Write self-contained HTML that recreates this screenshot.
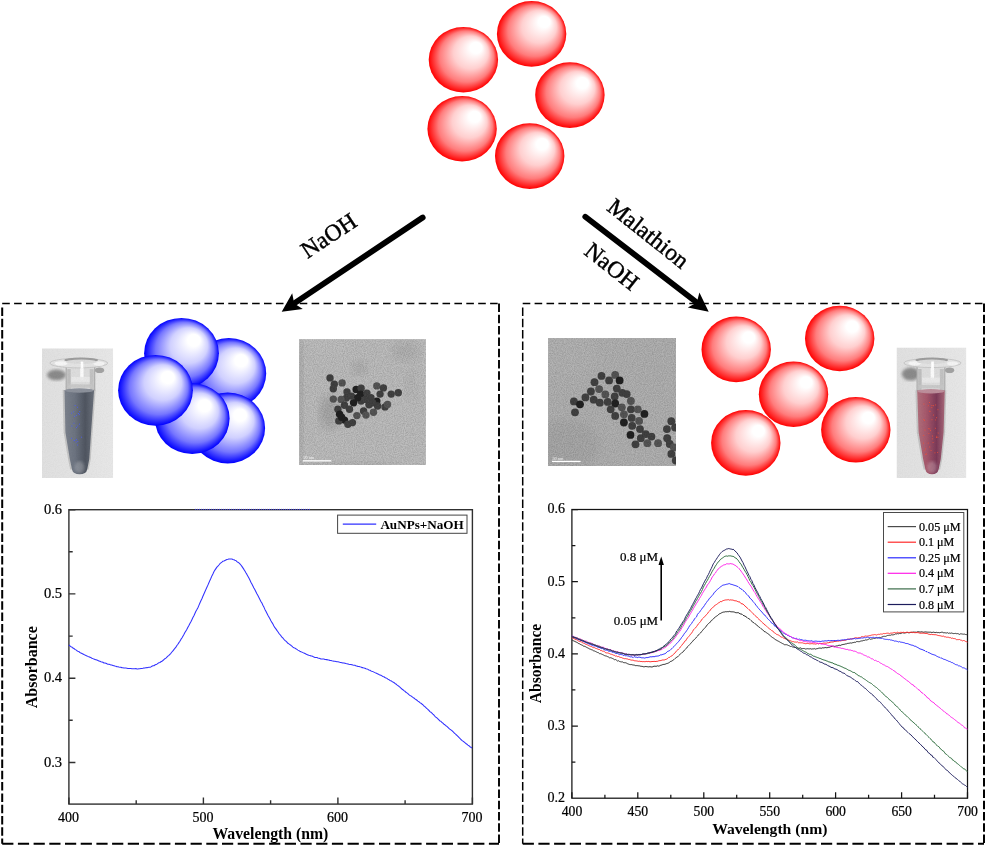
<!DOCTYPE html>
<html lang="en"><head><meta charset="utf-8"><title>AuNPs malathion sensing scheme</title>
<style>html,body{margin:0;padding:0;background:#fff}svg{display:block}text{font-family:"Liberation Serif", "DejaVu Serif", serif;fill:#000}</style></head><body>
<svg width="987" height="847" viewBox="0 0 987 847">
<defs>
<radialGradient id="gr" cx="0.5" cy="0.5" r="0.5" fx="0.72" fy="0.28"><stop offset="0" stop-color="#fff"/><stop offset="0.17" stop-color="#fff"/><stop offset="0.5" stop-color="#ffcfcf"/><stop offset="0.78" stop-color="#ff7c7c"/><stop offset="0.94" stop-color="#ff2222"/><stop offset="1" stop-color="#ff0000"/></radialGradient>
<radialGradient id="gb" cx="0.5" cy="0.5" r="0.5" fx="0.70" fy="0.28"><stop offset="0" stop-color="#fff"/><stop offset="0.17" stop-color="#fff"/><stop offset="0.5" stop-color="#d0d0ff"/><stop offset="0.78" stop-color="#7676ff"/><stop offset="0.93" stop-color="#2424ff"/><stop offset="1" stop-color="#0000ff"/></radialGradient>
<filter id="noise" x="0" y="0" width="1" height="1"><feTurbulence type="fractalNoise" baseFrequency="0.9" numOctaves="2" seed="3" result="n"/><feColorMatrix in="n" type="matrix" values="0 0 0 0 0  0 0 0 0 0  0 0 0 0 0  0.9 0 0 0 -0.28" result="a"/><feComposite in="a" in2="SourceGraphic" operator="in"/></filter>
<filter id="b1"><feGaussianBlur stdDeviation="0.7"/></filter>
<filter id="b2"><feGaussianBlur stdDeviation="1.6"/></filter>
<filter id="b4"><feGaussianBlur stdDeviation="4"/></filter>
<linearGradient id="tubebgL" x1="0" x2="1" y1="0" y2="0"><stop offset="0" stop-color="#e0e0e0"/><stop offset="0.6" stop-color="#e3e3e3"/><stop offset="1" stop-color="#e7e7e7"/></linearGradient>
<linearGradient id="liqL" x1="0" x2="1" y1="0" y2="0"><stop offset="0" stop-color="#7b818c"/><stop offset="0.35" stop-color="#6c7380"/><stop offset="0.7" stop-color="#4f5560"/><stop offset="1" stop-color="#6a707b"/></linearGradient>
<linearGradient id="liqR" x1="0" x2="1" y1="0" y2="0"><stop offset="0" stop-color="#b0707c"/><stop offset="0.35" stop-color="#a4566a"/><stop offset="0.7" stop-color="#7c3a58"/><stop offset="1" stop-color="#a86878"/></linearGradient>
</defs>
<rect width="987" height="847" fill="#fff"/>
<ellipse cx="531.6" cy="33.9" rx="34.7" ry="32.8" fill="url(#gr)"/>
<ellipse cx="463.4" cy="59.7" rx="34.7" ry="32.8" fill="url(#gr)"/>
<ellipse cx="569.9" cy="95.1" rx="34.7" ry="32.8" fill="url(#gr)"/>
<ellipse cx="462.1" cy="128.7" rx="34.7" ry="32.8" fill="url(#gr)"/>
<ellipse cx="529.7" cy="156.1" rx="34.7" ry="32.8" fill="url(#gr)"/>
<g stroke="#000" fill="none">
<path d="M2.2 303.5H499.0" stroke-width="1.3" stroke-dasharray="7.6 4.3"/>
<path d="M2.2 843.8H499.0" stroke-width="1.9" stroke-dasharray="11.2 4.5"/>
<path d="M2.2 307.5V843.8" stroke-width="2.0" stroke-dasharray="8.5 2.8"/>
<path d="M499.0 303.5V843.8" stroke-width="1.9" stroke-dasharray="8.5 2.8"/>
</g>
<g stroke="#000" fill="none">
<path d="M522.7 303.5H984.0" stroke-width="1.3" stroke-dasharray="7.6 4.3"/>
<path d="M522.7 843.8H984.0" stroke-width="1.9" stroke-dasharray="11.2 4.5"/>
<path d="M522.7 307.5V843.8" stroke-width="1.5" stroke-dasharray="8.5 2.8"/>
<path d="M984.0 303.5V843.8" stroke-width="2.0" stroke-dasharray="8.5 2.8"/>
</g>
<line x1="422.7" y1="217.5" x2="294.2" y2="303.4" stroke="#000" stroke-width="5.8" stroke-linecap="round"/>
<path d="M281.7 311.7L292.2 293.2L294.2 303.4L302.8 309.0Z" fill="#000"/>
<line x1="585.3" y1="216.7" x2="696.8" y2="302.5" stroke="#000" stroke-width="5.8" stroke-linecap="round"/>
<path d="M708.7 311.7L687.8 307.6L696.8 302.5L699.4 292.6Z" fill="#000"/>
<text transform="translate(333.0 242.0) rotate(-33.7)" font-size="23.5" font-weight="normal" text-anchor="middle" stroke="#000" stroke-width="0.45">NaOH</text>
<text transform="translate(643.5 239.5) rotate(38.5)" font-size="23.5" font-weight="normal" text-anchor="middle" stroke="#000" stroke-width="0.45">Malathion</text>
<text transform="translate(607.0 272.5) rotate(38.5)" font-size="23.5" font-weight="normal" text-anchor="middle" stroke="#000" stroke-width="0.45">NaOH</text>
<ellipse cx="228.8" cy="373.5" rx="37.4" ry="35.4" fill="url(#gb)"/>
<ellipse cx="181.5" cy="353.3" rx="37.4" ry="35.4" fill="url(#gb)"/>
<ellipse cx="227.7" cy="428.0" rx="37.4" ry="35.4" fill="url(#gb)"/>
<ellipse cx="192.2" cy="418.6" rx="37.4" ry="35.4" fill="url(#gb)"/>
<ellipse cx="155.5" cy="390.3" rx="37.4" ry="35.4" fill="url(#gb)"/>
<ellipse cx="736.2" cy="349.4" rx="34.7" ry="32.8" fill="url(#gr)"/>
<ellipse cx="839.7" cy="338.5" rx="34.7" ry="32.8" fill="url(#gr)"/>
<ellipse cx="793.5" cy="394.3" rx="34.7" ry="32.8" fill="url(#gr)"/>
<ellipse cx="745.8" cy="442.9" rx="34.7" ry="32.8" fill="url(#gr)"/>
<ellipse cx="855.8" cy="429.7" rx="34.7" ry="32.8" fill="url(#gr)"/>
<clipPath id="c299"><rect x="299.1" y="339.1" width="126.8" height="125.9"/></clipPath>
<g clip-path="url(#c299)">
<rect x="299.1" y="339.1" width="126.8" height="125.9" fill="#bdbdbd"/>
<ellipse cx="299.0" cy="400.0" rx="4.0" ry="70.0" fill="#9a9a9a" opacity="0.55" filter="url(#b4)"/>
<ellipse cx="329.7" cy="412.6" rx="10.0" ry="17.0" fill="#9a9a9a" opacity="0.60" filter="url(#b4)"/>
<ellipse cx="359.4" cy="368.0" rx="8.0" ry="7.5" fill="#a4a4a4" opacity="0.60" filter="url(#b4)"/>
<ellipse cx="405.7" cy="351.5" rx="14.0" ry="10.0" fill="#a8a8a8" opacity="0.55" filter="url(#b4)"/>
<ellipse cx="411.0" cy="384.5" rx="6.0" ry="17.0" fill="#acacac" opacity="0.40" filter="url(#b4)"/>
<ellipse cx="350.0" cy="467.0" rx="50.0" ry="5.0" fill="#a4a4a4" opacity="0.40" filter="url(#b4)"/>
<ellipse cx="330.0" cy="345.0" rx="20.0" ry="6.0" fill="#c2c2c2" opacity="0.50" filter="url(#b4)"/>
<g filter="url(#b1)">
<circle cx="330.0" cy="377.9" r="3.7" fill="#424242"/>
<circle cx="334.3" cy="384.2" r="3.7" fill="#424242"/>
<circle cx="342.1" cy="382.9" r="3.7" fill="#565656"/>
<circle cx="333.3" cy="388.7" r="3.7" fill="#424242"/>
<circle cx="333.3" cy="399.1" r="3.7" fill="#565656"/>
<circle cx="347.0" cy="392.0" r="3.7" fill="#424242"/>
<circle cx="356.1" cy="389.5" r="3.7" fill="#232323"/>
<circle cx="361.1" cy="388.2" r="3.7" fill="#424242"/>
<circle cx="360.7" cy="394.1" r="3.7" fill="#232323"/>
<circle cx="366.9" cy="393.1" r="3.7" fill="#424242"/>
<circle cx="353.6" cy="402.7" r="3.7" fill="#232323"/>
<circle cx="346.2" cy="398.1" r="3.7" fill="#424242"/>
<circle cx="341.2" cy="399.4" r="3.7" fill="#565656"/>
<circle cx="344.5" cy="405.2" r="3.7" fill="#424242"/>
<circle cx="337.9" cy="409.3" r="3.7" fill="#424242"/>
<circle cx="339.6" cy="414.3" r="3.7" fill="#232323"/>
<circle cx="344.5" cy="420.1" r="3.7" fill="#232323"/>
<circle cx="338.8" cy="420.9" r="3.7" fill="#424242"/>
<circle cx="347.9" cy="424.2" r="3.7" fill="#424242"/>
<circle cx="352.5" cy="422.6" r="3.7" fill="#424242"/>
<circle cx="356.9" cy="415.6" r="3.7" fill="#565656"/>
<circle cx="363.6" cy="411.0" r="3.7" fill="#424242"/>
<circle cx="366.0" cy="415.1" r="3.7" fill="#565656"/>
<circle cx="373.5" cy="412.3" r="3.7" fill="#565656"/>
<circle cx="369.0" cy="404.7" r="3.7" fill="#424242"/>
<circle cx="376.8" cy="401.1" r="3.7" fill="#232323"/>
<circle cx="377.6" cy="406.0" r="3.7" fill="#424242"/>
<circle cx="385.0" cy="406.9" r="3.7" fill="#424242"/>
<circle cx="387.5" cy="404.4" r="3.7" fill="#565656"/>
<circle cx="380.1" cy="394.1" r="3.7" fill="#424242"/>
<circle cx="376.8" cy="385.9" r="3.7" fill="#565656"/>
<circle cx="383.4" cy="387.9" r="3.7" fill="#424242"/>
<circle cx="391.2" cy="394.1" r="3.7" fill="#424242"/>
<circle cx="398.3" cy="392.8" r="3.7" fill="#424242"/>
<circle cx="361.1" cy="401.1" r="3.7" fill="#424242"/>
<circle cx="371.0" cy="397.8" r="3.7" fill="#424242"/>
<circle cx="351.5" cy="396.1" r="3.7" fill="#424242"/>
<circle cx="357.8" cy="397.8" r="3.7" fill="#232323"/>
<circle cx="365.2" cy="399.4" r="3.7" fill="#424242"/>
<circle cx="372.6" cy="402.7" r="3.7" fill="#424242"/>
<circle cx="349.5" cy="409.3" r="3.7" fill="#424242"/>
<circle cx="341.6" cy="417.3" r="3.7" fill="#232323"/>
</g>
<rect x="299.1" y="339.1" width="126.8" height="125.9" fill="#000" filter="url(#noise)" opacity="0.18"/>
<rect x="299.6" y="339.6" width="126.8" height="125.9" fill="#fff" filter="url(#noise)" opacity="0.12"/>
<rect x="302.9" y="460.2" width="28.4" height="1.3" fill="#fff"/>
<text x="303.4" y="459.0" font-size="4.2" fill="#f4f4f4" style="fill:#f4f4f4" textLength="11" lengthAdjust="spacingAndGlyphs">20 nm</text>
</g>
<clipPath id="c547"><rect x="547.9" y="337.9" width="128.1" height="128.1"/></clipPath>
<g clip-path="url(#c547)">
<rect x="547.9" y="337.9" width="128.1" height="128.1" fill="#b1b1b1"/>
<ellipse cx="565.0" cy="352.0" rx="32.0" ry="26.0" fill="#b6b6b6" opacity="0.50" filter="url(#b4)"/>
<ellipse cx="565.0" cy="445.0" rx="35.0" ry="25.0" fill="#a0a0a0" opacity="0.50" filter="url(#b4)"/>
<ellipse cx="655.0" cy="365.0" rx="25.0" ry="30.0" fill="#b0b0b0" opacity="0.40" filter="url(#b4)"/>
<g filter="url(#b1)">
<circle cx="573.9" cy="401.4" r="3.9" fill="#424242"/>
<circle cx="580.0" cy="404.3" r="3.9" fill="#232323"/>
<circle cx="575.0" cy="412.3" r="3.9" fill="#424242"/>
<circle cx="585.4" cy="397.4" r="3.9" fill="#424242"/>
<circle cx="590.9" cy="391.5" r="3.9" fill="#424242"/>
<circle cx="594.5" cy="382.2" r="3.9" fill="#424242"/>
<circle cx="601.5" cy="375.9" r="3.9" fill="#424242"/>
<circle cx="599.1" cy="389.1" r="3.9" fill="#565656"/>
<circle cx="593.7" cy="399.7" r="3.9" fill="#424242"/>
<circle cx="599.8" cy="402.7" r="3.9" fill="#424242"/>
<circle cx="605.3" cy="394.4" r="3.9" fill="#565656"/>
<circle cx="609.1" cy="380.4" r="3.9" fill="#424242"/>
<circle cx="615.2" cy="374.9" r="3.9" fill="#565656"/>
<circle cx="619.6" cy="380.4" r="3.9" fill="#232323"/>
<circle cx="616.8" cy="388.6" r="3.9" fill="#424242"/>
<circle cx="614.7" cy="396.4" r="3.9" fill="#424242"/>
<circle cx="622.3" cy="392.8" r="3.9" fill="#424242"/>
<circle cx="626.7" cy="394.1" r="3.9" fill="#424242"/>
<circle cx="607.7" cy="401.9" r="3.9" fill="#424242"/>
<circle cx="615.2" cy="403.5" r="3.9" fill="#232323"/>
<circle cx="610.7" cy="409.3" r="3.9" fill="#424242"/>
<circle cx="621.8" cy="407.3" r="3.9" fill="#565656"/>
<circle cx="615.2" cy="415.9" r="3.9" fill="#424242"/>
<circle cx="623.9" cy="414.3" r="3.9" fill="#565656"/>
<circle cx="630.9" cy="401.0" r="3.9" fill="#565656"/>
<circle cx="630.9" cy="409.3" r="3.9" fill="#424242"/>
<circle cx="637.8" cy="409.3" r="3.9" fill="#565656"/>
<circle cx="644.4" cy="413.9" r="3.9" fill="#232323"/>
<circle cx="631.7" cy="417.9" r="3.9" fill="#424242"/>
<circle cx="639.1" cy="420.9" r="3.9" fill="#565656"/>
<circle cx="623.9" cy="422.5" r="3.9" fill="#232323"/>
<circle cx="632.2" cy="425.8" r="3.9" fill="#424242"/>
<circle cx="640.0" cy="429.1" r="3.9" fill="#424242"/>
<circle cx="630.5" cy="434.9" r="3.9" fill="#232323"/>
<circle cx="640.8" cy="438.2" r="3.9" fill="#424242"/>
<circle cx="645.7" cy="434.1" r="3.9" fill="#424242"/>
<circle cx="651.5" cy="436.6" r="3.9" fill="#424242"/>
<circle cx="635.5" cy="444.3" r="3.9" fill="#424242"/>
<circle cx="647.4" cy="443.2" r="3.9" fill="#565656"/>
<circle cx="658.1" cy="443.2" r="3.9" fill="#565656"/>
<circle cx="666.9" cy="429.1" r="3.9" fill="#424242"/>
<circle cx="671.3" cy="421.2" r="3.9" fill="#424242"/>
<circle cx="667.2" cy="438.2" r="3.9" fill="#424242"/>
<circle cx="669.7" cy="444.0" r="3.9" fill="#424242"/>
<circle cx="673.8" cy="447.3" r="3.9" fill="#565656"/>
<circle cx="671.3" cy="453.9" r="3.9" fill="#424242"/>
<circle cx="675.1" cy="427.5" r="3.9" fill="#424242"/>
<circle cx="675.8" cy="460.5" r="3.9" fill="#424242"/>
</g>
<rect x="547.9" y="337.9" width="128.1" height="128.1" fill="#000" filter="url(#noise)" opacity="0.18"/>
<rect x="548.4" y="338.4" width="128.1" height="128.1" fill="#fff" filter="url(#noise)" opacity="0.12"/>
<rect x="551.9" y="460.8" width="28.7" height="1.3" fill="#fff"/>
<text x="552.4" y="459.6" font-size="4.2" fill="#f4f4f4" style="fill:#f4f4f4" textLength="11" lengthAdjust="spacingAndGlyphs">50 nm</text>
</g>
<clipPath id="t42"><rect x="42.0" y="348.3" width="71.2" height="129.7"/></clipPath>
<g clip-path="url(#t42)">
<rect x="42.0" y="348.3" width="71.2" height="129.7" fill="url(#tubebgL)"/>
<ellipse cx="56.5" cy="374.9" rx="9.5" ry="5.3" fill="#7c7c7c" opacity="0.85" filter="url(#b2)"/>
<path d="M62.7 389.9L63.6 432.3L68.0 458.9L70.2 469.5L88.7 469.5L90.8 458.9L92.6 432.3L95.6 389.9Z" fill="#bcbcbc" opacity="0.8" filter="url(#b1)"/>
<ellipse cx="99.5" cy="370.3" rx="4.6" ry="2.8" fill="#a2a2a2" filter="url(#b1)"/>
<rect x="66.2" y="363.1" width="28.5" height="26.8" fill="#dcdcdc" stroke="#a8a8a8" stroke-width="1.1"/>
<rect x="67.2" y="369.1" width="3.5" height="20.8" fill="#bebebe" filter="url(#b1)"/>
<rect x="89.7" y="369.1" width="4" height="20.8" fill="#c2c2c2" filter="url(#b1)"/>
<rect x="80.2" y="365.1" width="3.4" height="14.7" fill="#fafafa" filter="url(#b1)"/>
<rect x="71.2" y="376.9" width="18.5" height="5" fill="#e9e9e9" opacity="0.9" filter="url(#b1)"/>
<rect x="68.2" y="384.4" width="24.5" height="3.4" fill="#c6c6c6" opacity="0.9" filter="url(#b1)"/>
<ellipse cx="78.8" cy="363.1" rx="28.9" ry="4.8" fill="#e3e3e3" stroke="#c4c4c4" stroke-width="0.9"/>
<ellipse cx="61.0" cy="363.4" rx="6.3" ry="2.2" fill="#f6f6f6" filter="url(#b1)"/>
<ellipse cx="99.0" cy="363.6" rx="5.8" ry="2.2" fill="#f3f3f3" filter="url(#b1)"/>
<ellipse cx="81.2" cy="359.9" rx="16.9" ry="2.5" fill="#9d9d9d" filter="url(#b1)"/>
<ellipse cx="81.2" cy="361.7" rx="15.4" ry="2.2" fill="#dadada" filter="url(#b1)"/>
<rect x="80.7" y="361.6" width="2.6" height="7" fill="#fff" filter="url(#b1)"/>
<path d="M64.5 389.9L65.4 432.3L69.8 458.9L72.0 469.5Q73.0 474.3 79.6 474.3Q86.2 474.3 87.2 469.5L89.3 458.9L91.1 432.3L94.1 389.9Z" fill="url(#liqL)"/>
<ellipse cx="79.3" cy="390.5" rx="14.5" ry="2.2" fill="#8c919b"/>
<ellipse cx="79.6" cy="467.3" rx="5" ry="6" fill="#fff" opacity="0.22" filter="url(#b2)"/>
<rect x="77.3" y="440.9" width="0.9" height="0.9" fill="#4a5cff"/>
<rect x="78.8" y="414.0" width="0.9" height="0.9" fill="#4a5cff"/>
<rect x="74.0" y="439.9" width="0.9" height="0.9" fill="#4a5cff"/>
<rect x="71.1" y="437.8" width="0.9" height="0.9" fill="#4a5cff"/>
<rect x="79.0" y="423.7" width="0.9" height="0.9" fill="#4a5cff"/>
<rect x="74.0" y="416.1" width="0.9" height="0.9" fill="#4a5cff"/>
<rect x="73.5" y="422.8" width="0.9" height="0.9" fill="#4a5cff"/>
<rect x="76.0" y="427.1" width="0.9" height="0.9" fill="#4a5cff"/>
<rect x="81.0" y="436.7" width="0.9" height="0.9" fill="#4a5cff"/>
<rect x="77.2" y="444.6" width="0.9" height="0.9" fill="#4a5cff"/>
<rect x="73.2" y="411.4" width="0.9" height="0.9" fill="#4a5cff"/>
<rect x="77.1" y="406.8" width="0.9" height="0.9" fill="#4a5cff"/>
<rect x="71.4" y="425.6" width="0.9" height="0.9" fill="#4a5cff"/>
<rect x="75.7" y="441.7" width="0.9" height="0.9" fill="#4a5cff"/>
<rect x="77.3" y="425.6" width="0.9" height="0.9" fill="#4a5cff"/>
<rect x="76.0" y="414.9" width="0.9" height="0.9" fill="#4a5cff"/>
<rect x="71.1" y="412.7" width="0.9" height="0.9" fill="#4a5cff"/>
<rect x="77.9" y="413.0" width="0.9" height="0.9" fill="#4a5cff"/>
<rect x="74.7" y="405.1" width="0.9" height="0.9" fill="#4a5cff"/>
<rect x="79.3" y="411.2" width="0.9" height="0.9" fill="#4a5cff"/>
<rect x="73.7" y="440.2" width="0.9" height="0.9" fill="#4a5cff"/>
<rect x="76.1" y="438.9" width="0.9" height="0.9" fill="#4a5cff"/>
<rect x="42.0" y="348.3" width="71.2" height="129.7" fill="#000" filter="url(#noise)" opacity="0.05"/>
</g>
<clipPath id="t896"><rect x="896.5" y="347.4" width="69.9" height="130.6"/></clipPath>
<g clip-path="url(#t896)">
<rect x="896.5" y="347.4" width="69.9" height="130.6" fill="url(#tubebgL)"/>
<ellipse cx="910.7" cy="374.1" rx="8.9" ry="6.5" fill="#7c7c7c" opacity="0.85" filter="url(#b2)"/>
<path d="M915.4 390.6L916.8 432.3L921.3 458.9L923.6 469.5L940.1 469.5L942.3 458.9L945.1 432.3L946.3 390.6Z" fill="#bcbcbc" opacity="0.8" filter="url(#b1)"/>
<ellipse cx="949.6" cy="370.2" rx="4.6" ry="2.8" fill="#a2a2a2" filter="url(#b1)"/>
<rect x="917.1" y="363.0" width="27.7" height="27.6" fill="#dcdcdc" stroke="#a8a8a8" stroke-width="1.1"/>
<rect x="918.1" y="369.0" width="3.5" height="21.6" fill="#bebebe" filter="url(#b1)"/>
<rect x="939.8" y="369.0" width="4" height="21.6" fill="#c2c2c2" filter="url(#b1)"/>
<rect x="930.7" y="365.0" width="3.4" height="15.2" fill="#fafafa" filter="url(#b1)"/>
<rect x="922.1" y="377.6" width="17.7" height="5" fill="#e9e9e9" opacity="0.9" filter="url(#b1)"/>
<rect x="919.1" y="385.1" width="23.7" height="3.4" fill="#c6c6c6" opacity="0.9" filter="url(#b1)"/>
<ellipse cx="932.5" cy="363.0" rx="28.5" ry="4.6" fill="#e3e3e3" stroke="#c4c4c4" stroke-width="0.9"/>
<ellipse cx="914.8" cy="363.3" rx="6.3" ry="2.1" fill="#f6f6f6" filter="url(#b1)"/>
<ellipse cx="952.5" cy="363.5" rx="5.7" ry="2.1" fill="#f3f3f3" filter="url(#b1)"/>
<ellipse cx="931.8" cy="360.0" rx="16.4" ry="2.5" fill="#9d9d9d" filter="url(#b1)"/>
<ellipse cx="931.8" cy="361.8" rx="15.0" ry="2.2" fill="#dadada" filter="url(#b1)"/>
<rect x="931.2" y="361.5" width="2.6" height="7" fill="#fff" filter="url(#b1)"/>
<path d="M917.2 390.6L918.6 432.3L923.1 458.9L925.4 469.5Q926.4 474.2 932.0 474.2Q937.6 474.2 938.6 469.5L940.8 458.9L943.6 432.3L944.8 390.6Z" fill="url(#liqR)"/>
<ellipse cx="931.0" cy="391.2" rx="13.5" ry="2.2" fill="#bd8f9b"/>
<ellipse cx="932.0" cy="467.2" rx="5" ry="6" fill="#fff" opacity="0.22" filter="url(#b2)"/>
<rect x="932.6" y="442.0" width="0.9" height="0.9" fill="#f05038"/>
<rect x="924.4" y="429.6" width="0.9" height="0.9" fill="#f05038"/>
<rect x="930.6" y="450.0" width="0.9" height="0.9" fill="#f05038"/>
<rect x="928.4" y="433.1" width="0.9" height="0.9" fill="#f05038"/>
<rect x="923.9" y="420.0" width="0.9" height="0.9" fill="#f05038"/>
<rect x="927.8" y="405.3" width="0.9" height="0.9" fill="#f05038"/>
<rect x="935.2" y="419.5" width="0.9" height="0.9" fill="#f05038"/>
<rect x="937.7" y="432.6" width="0.9" height="0.9" fill="#f05038"/>
<rect x="932.1" y="435.6" width="0.9" height="0.9" fill="#f05038"/>
<rect x="933.1" y="405.3" width="0.9" height="0.9" fill="#f05038"/>
<rect x="929.6" y="410.9" width="0.9" height="0.9" fill="#f05038"/>
<rect x="929.0" y="402.0" width="0.9" height="0.9" fill="#f05038"/>
<rect x="937.5" y="409.3" width="0.9" height="0.9" fill="#f05038"/>
<rect x="933.1" y="414.6" width="0.9" height="0.9" fill="#f05038"/>
<rect x="936.1" y="437.1" width="0.9" height="0.9" fill="#f05038"/>
<rect x="925.0" y="448.4" width="0.9" height="0.9" fill="#f05038"/>
<rect x="937.2" y="452.0" width="0.9" height="0.9" fill="#f05038"/>
<rect x="931.5" y="405.0" width="0.9" height="0.9" fill="#f05038"/>
<rect x="925.9" y="453.5" width="0.9" height="0.9" fill="#f05038"/>
<rect x="931.3" y="407.2" width="0.9" height="0.9" fill="#f05038"/>
<rect x="936.3" y="435.8" width="0.9" height="0.9" fill="#f05038"/>
<rect x="931.5" y="419.3" width="0.9" height="0.9" fill="#f05038"/>
<rect x="929.2" y="410.8" width="0.9" height="0.9" fill="#f05038"/>
<rect x="923.6" y="450.3" width="0.9" height="0.9" fill="#f05038"/>
<rect x="930.0" y="430.0" width="0.9" height="0.9" fill="#f05038"/>
<rect x="927.8" y="442.6" width="0.9" height="0.9" fill="#f05038"/>
<rect x="923.4" y="419.1" width="0.9" height="0.9" fill="#f05038"/>
<rect x="923.5" y="403.6" width="0.9" height="0.9" fill="#f05038"/>
<rect x="937.5" y="436.8" width="0.9" height="0.9" fill="#f05038"/>
<rect x="929.4" y="428.5" width="0.9" height="0.9" fill="#f05038"/>
<rect x="936.1" y="417.3" width="0.9" height="0.9" fill="#f05038"/>
<rect x="931.9" y="438.4" width="0.9" height="0.9" fill="#f05038"/>
<rect x="928.3" y="428.2" width="0.9" height="0.9" fill="#f05038"/>
<rect x="934.5" y="452.4" width="0.9" height="0.9" fill="#f05038"/>
<rect x="925.3" y="453.9" width="0.9" height="0.9" fill="#f05038"/>
<rect x="923.1" y="442.7" width="0.9" height="0.9" fill="#f05038"/>
<rect x="935.2" y="404.5" width="0.9" height="0.9" fill="#f05038"/>
<rect x="929.3" y="446.5" width="0.9" height="0.9" fill="#f05038"/>
<rect x="923.2" y="435.0" width="0.9" height="0.9" fill="#f05038"/>
<rect x="934.9" y="427.8" width="0.9" height="0.9" fill="#f05038"/>
<rect x="896.5" y="347.4" width="69.9" height="130.6" fill="#000" filter="url(#noise)" opacity="0.05"/>
</g>
<g stroke="#303030" stroke-width="1.40" fill="none">
<rect x="68.9" y="509.7" width="403.5" height="294.4"/>
<path d="M68.9 804.1v-6.5M203.4 804.1v-6.5M337.9 804.1v-6.5M472.4 804.1v-6.5M136.2 804.1v-3.8M270.6 804.1v-3.8M405.1 804.1v-3.8M68.9 762.5h6.5M68.9 678.2h6.5M68.9 593.9h6.5M68.9 509.7h6.5M68.9 720.3h3.8M68.9 636.1h3.8M68.9 551.8h3.8"/>
</g>
<text x="62.1" y="766.6" font-size="14.6" font-weight="normal" text-anchor="end" textLength="18.2" lengthAdjust="spacingAndGlyphs" stroke="#000" stroke-width="0.22">0.3</text>
<text x="62.1" y="682.3" font-size="14.6" font-weight="normal" text-anchor="end" textLength="18.2" lengthAdjust="spacingAndGlyphs" stroke="#000" stroke-width="0.22">0.4</text>
<text x="62.1" y="598.0" font-size="14.6" font-weight="normal" text-anchor="end" textLength="18.2" lengthAdjust="spacingAndGlyphs" stroke="#000" stroke-width="0.22">0.5</text>
<text x="62.1" y="513.8" font-size="14.6" font-weight="normal" text-anchor="end" textLength="18.2" lengthAdjust="spacingAndGlyphs" stroke="#000" stroke-width="0.22">0.6</text>
<text x="68.5" y="822.4" font-size="14.0" font-weight="normal" text-anchor="middle" textLength="21.0" lengthAdjust="spacingAndGlyphs" stroke="#000" stroke-width="0.22">400</text>
<text x="203.0" y="822.4" font-size="14.0" font-weight="normal" text-anchor="middle" textLength="21.0" lengthAdjust="spacingAndGlyphs" stroke="#000" stroke-width="0.22">500</text>
<text x="337.5" y="822.4" font-size="14.0" font-weight="normal" text-anchor="middle" textLength="21.0" lengthAdjust="spacingAndGlyphs" stroke="#000" stroke-width="0.22">600</text>
<text x="472.0" y="822.4" font-size="14.0" font-weight="normal" text-anchor="middle" textLength="21.0" lengthAdjust="spacingAndGlyphs" stroke="#000" stroke-width="0.22">700</text>
<text x="270.4" y="839.0" font-size="16.0" font-weight="bold" text-anchor="middle" textLength="115.9" lengthAdjust="spacingAndGlyphs">Wavelength (nm)</text>
<text transform="translate(37.3 667.2) rotate(-90)" font-size="16" font-weight="bold" text-anchor="middle" textLength="82.1" lengthAdjust="spacingAndGlyphs">Absorbance</text>
<polyline points="68.9,645.0 69.9,645.8 70.9,646.7 71.9,647.1 72.9,648.1 73.9,648.5 74.9,649.4 75.9,649.9 76.9,650.7 77.9,651.2 78.9,651.6 79.9,652.5 80.9,653.1 81.9,653.5 82.9,654.0 83.9,654.5 84.9,654.9 85.9,655.6 86.9,655.9 87.9,656.4 88.9,656.8 89.9,657.2 90.9,657.6 91.9,658.3 92.9,658.6 93.9,659.1 94.9,659.4 95.9,659.7 96.9,660.1 97.9,660.5 98.9,660.9 99.9,661.3 100.9,661.7 101.9,661.9 102.9,662.3 103.9,663.0 104.9,663.0 105.9,663.3 106.9,663.8 107.9,664.2 108.9,664.2 109.9,664.6 110.9,664.9 111.9,665.0 112.9,665.6 113.9,665.8 114.9,666.1 115.9,666.3 116.9,666.7 117.9,666.8 118.9,667.1 119.9,667.2 120.9,667.3 121.9,667.8 122.9,667.7 123.9,667.9 124.9,668.0 125.9,668.1 126.9,668.2 127.9,668.4 128.9,668.4 129.9,668.5 130.9,668.6 131.9,668.8 132.9,668.8 133.9,668.8 134.9,668.7 135.9,668.6 136.9,668.9 137.9,668.9 138.9,668.7 139.9,668.7 140.9,668.6 141.9,668.5 142.9,668.3 143.9,668.0 144.9,668.1 145.9,667.6 146.9,667.7 147.9,667.4 148.9,667.3 149.9,667.2 150.9,666.9 151.9,666.2 152.9,665.8 153.9,665.7 154.9,665.0 155.9,664.6 156.9,664.2 157.9,663.4 158.9,662.8 159.9,662.5 160.9,661.8 161.9,661.2 162.9,660.5 163.9,659.6 164.9,658.7 165.9,658.1 166.9,657.1 167.9,656.1 168.9,655.3 169.9,654.3 170.9,653.3 171.9,652.0 172.9,650.9 173.9,649.6 174.9,648.3 175.9,647.1 176.9,645.5 177.9,644.2 178.9,642.6 179.9,641.3 180.9,639.4 181.9,638.0 182.9,636.2 183.9,634.5 184.9,632.6 185.9,630.9 186.9,629.2 187.9,627.3 188.9,625.5 189.9,623.5 190.9,621.8 191.9,619.7 192.9,617.5 193.9,615.7 194.9,613.5 195.9,611.3 196.9,609.6 197.9,607.7 198.9,605.4 199.9,603.0 200.9,600.8 201.9,598.8 202.9,596.3 203.9,594.0 204.9,591.7 205.9,589.4 206.9,587.3 207.9,585.1 208.9,582.8 209.9,580.4 210.9,578.3 211.9,575.9 212.9,574.0 213.9,571.8 214.9,570.1 215.9,568.6 216.9,567.1 217.9,566.2 218.9,565.0 219.9,563.7 220.9,562.9 221.9,562.1 222.9,561.2 223.9,561.0 224.9,560.5 225.9,560.0 226.9,559.5 227.9,559.3 228.9,559.0 229.9,559.1 230.9,559.0 231.9,559.1 232.9,559.5 233.9,559.7 234.9,560.2 235.9,560.5 236.9,561.6 237.9,562.2 238.9,562.9 239.9,563.8 240.9,565.0 241.9,566.4 242.9,567.9 243.9,569.4 244.9,571.1 245.9,572.8 246.9,574.4 247.9,576.2 248.9,578.0 249.9,580.0 250.9,582.2 251.9,584.1 252.9,586.0 253.9,587.9 254.9,589.7 255.9,591.7 256.9,593.7 257.9,595.5 258.9,597.5 259.9,599.4 260.9,601.4 261.9,603.1 262.9,605.2 263.9,607.1 264.9,609.4 265.9,611.2 266.9,613.3 267.9,615.3 268.9,617.0 269.9,618.8 270.9,620.7 271.9,622.4 272.9,624.0 273.9,625.9 274.9,627.7 275.9,628.9 276.9,630.4 277.9,631.8 278.9,633.3 279.9,634.5 280.9,635.7 281.9,637.2 282.9,638.0 283.9,639.3 284.9,640.4 285.9,641.2 286.9,642.2 287.9,643.3 288.9,643.9 289.9,644.6 290.9,645.3 291.9,646.2 292.9,647.1 293.9,647.7 294.9,648.1 295.9,648.8 296.9,649.4 297.9,650.1 298.9,650.6 299.9,651.2 300.9,651.7 301.9,652.1 302.9,652.6 303.9,653.1 304.9,653.5 305.9,654.0 306.9,654.6 307.9,654.9 308.9,655.2 309.9,655.4 310.9,656.0 311.9,656.1 312.9,656.5 313.9,657.1 314.9,657.4 315.9,657.5 316.9,657.6 317.9,658.0 318.9,658.2 319.9,658.6 320.9,659.0 321.9,658.9 322.9,659.0 323.9,659.1 324.9,659.4 325.9,659.6 326.9,659.6 327.9,660.0 328.9,660.0 329.9,660.5 330.9,660.6 331.9,660.8 332.9,660.9 333.9,661.2 334.9,661.3 335.9,661.5 336.9,661.7 337.9,661.7 338.9,661.9 339.9,662.4 340.9,662.5 341.9,662.7 342.9,663.0 343.9,662.9 344.9,663.2 345.9,663.5 346.9,663.7 347.9,663.9 348.9,664.3 349.9,664.4 350.9,664.4 351.9,664.7 352.9,665.1 353.9,665.3 354.9,665.3 355.9,665.9 356.9,666.0 357.9,666.4 358.9,666.4 359.9,666.7 360.9,666.9 361.9,667.6 362.9,667.6 363.9,668.1 364.9,668.2 365.9,668.7 366.9,668.9 367.9,669.4 368.9,670.0 369.9,670.2 370.9,670.9 371.9,671.3 372.9,671.6 373.9,672.1 374.9,672.6 375.9,673.1 376.9,673.5 377.9,673.9 378.9,674.5 379.9,674.9 380.9,675.3 381.9,675.9 382.9,676.5 383.9,676.8 384.9,677.5 385.9,677.9 386.9,678.4 387.9,679.2 388.9,679.6 389.9,680.4 390.9,680.7 391.9,681.4 392.9,682.0 393.9,682.5 394.9,683.4 395.9,684.0 396.9,684.9 397.9,685.6 398.9,686.3 399.9,687.2 400.9,688.1 401.9,689.0 402.9,689.7 403.9,690.6 404.9,691.2 405.9,692.3 406.9,692.9 407.9,693.6 408.9,694.6 409.9,695.4 410.9,695.8 411.9,696.6 412.9,697.4 413.9,698.0 414.9,698.9 415.9,699.5 416.9,700.2 417.9,701.1 418.9,701.7 419.9,702.6 420.9,703.2 421.9,704.0 422.9,704.7 423.9,706.0 424.9,706.6 425.9,707.6 426.9,708.5 427.9,709.5 428.9,710.4 429.9,711.6 430.9,712.2 431.9,713.1 432.9,714.1 433.9,715.0 434.9,716.3 435.9,717.2 436.9,717.9 437.9,718.8 438.9,719.8 439.9,720.9 440.9,721.2 441.9,722.5 442.9,723.1 443.9,724.2 444.9,724.8 445.9,725.7 446.9,726.4 447.9,727.3 448.9,728.4 449.9,729.2 450.9,729.9 451.9,730.7 452.9,731.5 453.9,732.6 454.9,733.5 455.9,734.5 456.9,735.4 457.9,736.3 458.9,737.4 459.9,738.4 460.9,739.5 461.9,740.4 462.9,741.1 463.9,741.8 464.9,742.7 465.9,743.5 466.9,744.2 467.9,745.1 468.9,745.7 469.9,746.7 470.9,747.3 471.9,748.0" fill="none" stroke="#3030ff" stroke-width="1.05" stroke-linejoin="round"/>
<line x1="195" y1="509.4" x2="311" y2="509.4" stroke="#3a3ae0" stroke-width="1" stroke-dasharray="1 1"/>
<rect x="337.6" y="515.1" width="129.4" height="18.2" fill="#fff" stroke="#444" stroke-width="1"/>
<line x1="342.8" y1="524.2" x2="376.2" y2="524.2" stroke="#3030ff" stroke-width="1.2"/>
<text x="380.4" y="528.7" font-size="13.0" font-weight="bold" text-anchor="start" textLength="83.3" lengthAdjust="spacingAndGlyphs">AuNPs+NaOH</text>
<g stroke="#141414" stroke-width="1.25" fill="none">
<rect x="571.9" y="509.5" width="395.6" height="288.7"/>
<path d="M571.9 798.2v-6.0M637.8 798.2v-6.0M703.8 798.2v-6.0M769.7 798.2v-6.0M835.6 798.2v-6.0M901.6 798.2v-6.0M967.5 798.2v-6.0M604.9 798.2v-3.5M670.8 798.2v-3.5M736.7 798.2v-3.5M802.7 798.2v-3.5M868.6 798.2v-3.5M934.5 798.2v-3.5M571.9 726.0h6.0M571.9 653.8h6.0M571.9 581.7h6.0M571.9 509.5h6.0M571.9 762.1h3.5M571.9 689.9h3.5M571.9 617.8h3.5M571.9 545.6h3.5"/>
</g>
<text x="565.0" y="802.1" font-size="14.6" font-weight="normal" text-anchor="end" textLength="17.6" lengthAdjust="spacingAndGlyphs" stroke="#000" stroke-width="0.22">0.2</text>
<text x="565.0" y="729.9" font-size="14.6" font-weight="normal" text-anchor="end" textLength="17.6" lengthAdjust="spacingAndGlyphs" stroke="#000" stroke-width="0.22">0.3</text>
<text x="565.0" y="657.7" font-size="14.6" font-weight="normal" text-anchor="end" textLength="17.6" lengthAdjust="spacingAndGlyphs" stroke="#000" stroke-width="0.22">0.4</text>
<text x="565.0" y="585.6" font-size="14.6" font-weight="normal" text-anchor="end" textLength="17.6" lengthAdjust="spacingAndGlyphs" stroke="#000" stroke-width="0.22">0.5</text>
<text x="565.0" y="513.4" font-size="14.6" font-weight="normal" text-anchor="end" textLength="17.6" lengthAdjust="spacingAndGlyphs" stroke="#000" stroke-width="0.22">0.6</text>
<text x="572.0" y="816.1" font-size="14.0" font-weight="normal" text-anchor="middle" textLength="20.6" lengthAdjust="spacingAndGlyphs" stroke="#000" stroke-width="0.22">400</text>
<text x="637.9" y="816.1" font-size="14.0" font-weight="normal" text-anchor="middle" textLength="20.6" lengthAdjust="spacingAndGlyphs" stroke="#000" stroke-width="0.22">450</text>
<text x="703.9" y="816.1" font-size="14.0" font-weight="normal" text-anchor="middle" textLength="20.6" lengthAdjust="spacingAndGlyphs" stroke="#000" stroke-width="0.22">500</text>
<text x="769.8" y="816.1" font-size="14.0" font-weight="normal" text-anchor="middle" textLength="20.6" lengthAdjust="spacingAndGlyphs" stroke="#000" stroke-width="0.22">550</text>
<text x="835.7" y="816.1" font-size="14.0" font-weight="normal" text-anchor="middle" textLength="20.6" lengthAdjust="spacingAndGlyphs" stroke="#000" stroke-width="0.22">600</text>
<text x="901.7" y="816.1" font-size="14.0" font-weight="normal" text-anchor="middle" textLength="20.6" lengthAdjust="spacingAndGlyphs" stroke="#000" stroke-width="0.22">650</text>
<text x="967.6" y="816.1" font-size="14.0" font-weight="normal" text-anchor="middle" textLength="20.6" lengthAdjust="spacingAndGlyphs" stroke="#000" stroke-width="0.22">700</text>
<text x="769.8" y="833.6" font-size="15.5" font-weight="bold" text-anchor="middle" textLength="115.2" lengthAdjust="spacingAndGlyphs">Wavelength (nm)</text>
<text transform="translate(541.1 663.5) rotate(-90)" font-size="16" font-weight="bold" text-anchor="middle" textLength="79.3" lengthAdjust="spacingAndGlyphs">Absorbance</text>
<polyline points="571.9,639.8 572.9,640.5 573.9,641.0 574.9,641.4 575.9,642.0 576.8,642.3 577.8,642.9 578.8,643.7 579.8,643.9 580.8,644.7 581.8,645.0 582.8,645.5 583.8,646.3 584.8,646.3 585.7,646.8 586.7,647.4 587.7,647.9 588.7,648.4 589.7,649.0 590.7,649.3 591.7,649.8 592.7,650.1 593.7,650.9 594.6,651.0 595.6,651.5 596.6,652.0 597.6,652.5 598.6,652.8 599.6,653.7 600.6,653.7 601.6,654.1 602.6,654.6 603.5,655.0 604.5,655.6 605.5,655.9 606.5,656.1 607.5,656.6 608.5,657.0 609.5,657.8 610.5,657.7 611.5,658.0 612.4,658.4 613.4,658.9 614.4,659.7 615.4,659.5 616.4,660.1 617.4,661.0 618.4,660.7 619.4,661.4 620.4,661.7 621.4,661.9 622.3,661.8 623.3,662.5 624.3,662.7 625.3,662.7 626.3,663.0 627.3,663.6 628.3,664.0 629.3,664.4 630.3,664.6 631.2,664.5 632.2,664.8 633.2,665.0 634.2,665.0 635.2,665.6 636.2,665.6 637.2,665.6 638.2,665.8 639.2,665.8 640.1,666.1 641.1,666.3 642.1,666.3 643.1,666.7 644.1,666.9 645.1,666.5 646.1,666.6 647.1,666.6 648.1,667.0 649.0,666.7 650.0,666.8 651.0,666.8 652.0,667.1 653.0,666.6 654.0,666.2 655.0,666.2 656.0,666.3 657.0,666.1 657.9,665.7 658.9,666.3 659.9,665.6 660.9,665.2 661.9,665.0 662.9,664.5 663.9,664.4 664.9,664.3 665.9,663.9 666.8,663.5 667.8,663.3 668.8,662.8 669.8,662.1 670.8,661.3 671.8,661.1 672.8,660.4 673.8,659.7 674.8,658.7 675.7,658.2 676.7,657.1 677.7,656.8 678.7,655.7 679.7,654.8 680.7,653.7 681.7,652.7 682.7,652.3 683.7,651.1 684.6,649.9 685.6,649.0 686.6,648.2 687.6,646.6 688.6,645.6 689.6,644.6 690.6,643.7 691.6,642.3 692.6,641.5 693.5,640.1 694.5,639.5 695.5,638.4 696.5,637.1 697.5,636.2 698.5,634.8 699.5,633.8 700.5,633.0 701.5,631.7 702.4,630.7 703.4,629.3 704.4,628.5 705.4,627.4 706.4,626.0 707.4,624.7 708.4,623.6 709.4,623.0 710.4,621.9 711.3,620.5 712.3,619.9 713.3,619.1 714.3,617.9 715.3,616.9 716.3,616.3 717.3,615.7 718.3,614.9 719.3,613.8 720.2,613.6 721.2,613.0 722.2,612.5 723.2,612.1 724.2,612.1 725.2,611.7 726.2,611.8 727.2,611.6 728.2,611.8 729.2,611.3 730.1,611.6 731.1,611.8 732.1,611.8 733.1,611.9 734.1,611.9 735.1,612.5 736.1,612.7 737.1,612.8 738.1,612.5 739.0,613.1 740.0,613.8 741.0,614.0 742.0,614.2 743.0,615.2 744.0,615.8 745.0,616.0 746.0,616.8 747.0,617.4 747.9,618.4 748.9,618.6 749.9,619.4 750.9,620.4 751.9,621.1 752.9,622.5 753.9,622.7 754.9,623.7 755.9,624.3 756.8,625.0 757.8,626.1 758.8,627.1 759.8,627.5 760.8,628.5 761.8,629.2 762.8,630.0 763.8,630.8 764.8,632.0 765.7,632.0 766.7,632.9 767.7,633.5 768.7,634.1 769.7,635.2 770.7,636.3 771.7,636.9 772.7,637.7 773.7,638.2 774.6,638.8 775.6,639.9 776.6,640.0 777.6,641.1 778.6,641.3 779.6,641.9 780.6,642.5 781.6,643.0 782.6,643.6 783.5,644.0 784.5,644.7 785.5,644.7 786.5,644.7 787.5,645.0 788.5,645.5 789.5,645.9 790.5,646.5 791.5,646.3 792.4,646.9 793.4,647.1 794.4,647.4 795.4,647.5 796.4,647.8 797.4,647.9 798.4,648.2 799.4,648.2 800.4,647.8 801.3,648.4 802.3,648.6 803.3,648.5 804.3,648.5 805.3,649.0 806.3,648.9 807.3,648.7 808.3,648.8 809.3,648.9 810.2,648.6 811.2,649.1 812.2,648.9 813.2,649.0 814.2,648.5 815.2,649.2 816.2,648.8 817.2,648.7 818.2,648.3 819.1,648.2 820.1,647.9 821.1,648.5 822.1,647.8 823.1,647.9 824.1,647.9 825.1,647.5 826.1,647.7 827.1,647.8 828.1,647.3 829.0,647.4 830.0,647.0 831.0,646.6 832.0,646.5 833.0,646.0 834.0,646.3 835.0,646.4 836.0,646.0 837.0,645.9 837.9,645.8 838.9,645.2 839.9,645.3 840.9,645.4 841.9,644.6 842.9,644.6 843.9,644.3 844.9,644.2 845.9,643.8 846.8,643.8 847.8,643.3 848.8,643.3 849.8,643.1 850.8,642.9 851.8,643.1 852.8,642.6 853.8,642.5 854.8,642.2 855.7,642.3 856.7,641.5 857.7,641.6 858.7,641.7 859.7,641.6 860.7,641.1 861.7,640.9 862.7,640.8 863.7,640.4 864.6,640.4 865.6,639.9 866.6,640.0 867.6,639.7 868.6,639.2 869.6,638.7 870.6,639.3 871.6,639.0 872.6,638.8 873.5,638.3 874.5,638.5 875.5,638.2 876.5,637.9 877.5,637.9 878.5,637.7 879.5,637.4 880.5,637.5 881.5,637.2 882.4,636.7 883.4,636.4 884.4,636.3 885.4,636.4 886.4,636.0 887.4,635.5 888.4,635.4 889.4,635.3 890.4,635.3 891.3,634.8 892.3,634.9 893.3,634.8 894.3,634.6 895.3,633.9 896.3,634.0 897.3,633.6 898.3,633.9 899.3,633.4 900.2,633.6 901.2,633.4 902.2,632.7 903.2,632.9 904.2,633.1 905.2,632.9 906.2,632.7 907.2,632.4 908.2,632.7 909.1,632.9 910.1,632.5 911.1,632.4 912.1,632.3 913.1,632.0 914.1,632.2 915.1,632.0 916.1,632.4 917.1,631.9 918.0,631.7 919.0,631.9 920.0,632.0 921.0,632.0 922.0,631.7 923.0,632.3 924.0,632.1 925.0,632.0 926.0,631.9 927.0,632.2 927.9,632.1 928.9,632.2 929.9,632.2 930.9,632.2 931.9,632.5 932.9,632.3 933.9,632.1 934.9,632.6 935.9,632.5 936.8,632.3 937.8,632.7 938.8,632.5 939.8,632.8 940.8,632.4 941.8,632.2 942.8,632.3 943.8,632.9 944.8,632.7 945.7,632.9 946.7,633.0 947.7,632.7 948.7,633.4 949.7,633.0 950.7,633.3 951.7,633.0 952.7,633.4 953.7,633.6 954.6,633.5 955.6,633.4 956.6,633.7 957.6,633.6 958.6,633.9 959.6,634.4 960.6,633.8 961.6,633.9 962.6,634.1 963.5,634.2 964.5,634.1 965.5,634.5 966.5,634.6 967.5,634.6" fill="none" stroke="#2a2a2a" stroke-width="0.95" stroke-linejoin="round"/>
<polyline points="571.9,637.4 572.9,638.4 573.9,638.3 574.9,639.2 575.9,639.8 576.8,639.7 577.8,640.5 578.8,641.2 579.8,641.5 580.8,641.7 581.8,642.1 582.8,642.9 583.8,643.2 584.8,643.5 585.7,644.3 586.7,644.5 587.7,645.0 588.7,645.6 589.7,646.0 590.7,646.3 591.7,646.7 592.7,647.3 593.7,647.7 594.6,647.7 595.6,648.3 596.6,648.6 597.6,649.0 598.6,649.5 599.6,649.5 600.6,650.6 601.6,650.6 602.6,651.2 603.5,651.2 604.5,651.6 605.5,652.7 606.5,652.9 607.5,652.9 608.5,653.2 609.5,653.6 610.5,654.1 611.5,654.3 612.4,654.6 613.4,655.1 614.4,655.2 615.4,656.2 616.4,655.9 617.4,656.6 618.4,656.4 619.4,657.0 620.4,657.4 621.4,657.5 622.3,658.0 623.3,658.3 624.3,658.7 625.3,658.6 626.3,658.8 627.3,658.9 628.3,659.4 629.3,659.4 630.3,659.8 631.2,660.1 632.2,660.1 633.2,660.2 634.2,660.7 635.2,660.8 636.2,660.9 637.2,661.0 638.2,661.4 639.2,661.1 640.1,661.5 641.1,661.4 642.1,661.7 643.1,661.6 644.1,661.6 645.1,661.8 646.1,661.3 647.1,661.7 648.1,661.4 649.0,661.5 650.0,661.8 651.0,661.7 652.0,661.5 653.0,661.5 654.0,661.4 655.0,661.4 656.0,661.6 657.0,661.1 657.9,661.4 658.9,660.6 659.9,660.7 660.9,660.5 661.9,660.2 662.9,659.9 663.9,660.0 664.9,659.8 665.9,659.3 666.8,659.1 667.8,658.4 668.8,657.3 669.8,657.3 670.8,656.3 671.8,656.0 672.8,654.8 673.8,654.1 674.8,653.1 675.7,652.0 676.7,650.7 677.7,650.0 678.7,648.9 679.7,648.0 680.7,646.5 681.7,645.4 682.7,644.0 683.7,643.0 684.6,641.3 685.6,640.9 686.6,639.2 687.6,637.7 688.6,636.7 689.6,635.5 690.6,634.1 691.6,633.1 692.6,631.5 693.5,629.7 694.5,628.7 695.5,627.9 696.5,626.6 697.5,625.2 698.5,623.7 699.5,622.8 700.5,621.6 701.5,620.0 702.4,618.8 703.4,617.9 704.4,616.9 705.4,615.9 706.4,614.6 707.4,613.8 708.4,612.1 709.4,611.3 710.4,610.0 711.3,608.7 712.3,607.8 713.3,607.3 714.3,606.0 715.3,605.0 716.3,604.6 717.3,603.9 718.3,603.0 719.3,602.7 720.2,601.5 721.2,601.8 722.2,601.1 723.2,600.6 724.2,600.3 725.2,600.0 726.2,599.9 727.2,599.9 728.2,599.5 729.2,600.2 730.1,599.8 731.1,600.0 732.1,600.0 733.1,600.1 734.1,600.6 735.1,600.8 736.1,600.8 737.1,601.2 738.1,601.9 739.0,601.7 740.0,602.2 741.0,603.6 742.0,603.8 743.0,604.0 744.0,605.1 745.0,606.0 746.0,606.9 747.0,607.8 747.9,608.6 748.9,609.6 749.9,610.2 750.9,611.4 751.9,612.4 752.9,613.6 753.9,614.3 754.9,615.5 755.9,616.3 756.8,617.0 757.8,618.2 758.8,619.1 759.8,620.1 760.8,621.1 761.8,622.1 762.8,623.0 763.8,623.7 764.8,625.0 765.7,625.3 766.7,626.4 767.7,627.4 768.7,628.2 769.7,629.0 770.7,629.6 771.7,630.6 772.7,630.9 773.7,632.1 774.6,633.1 775.6,633.5 776.6,634.4 777.6,634.7 778.6,635.1 779.6,635.7 780.6,636.8 781.6,637.2 782.6,637.2 783.5,638.0 784.5,638.5 785.5,638.8 786.5,638.9 787.5,639.5 788.5,640.1 789.5,640.4 790.5,640.7 791.5,641.2 792.4,641.6 793.4,641.6 794.4,642.0 795.4,642.0 796.4,642.2 797.4,641.8 798.4,642.7 799.4,642.7 800.4,642.8 801.3,642.8 802.3,642.8 803.3,643.2 804.3,643.4 805.3,643.7 806.3,643.6 807.3,643.4 808.3,643.5 809.3,643.8 810.2,643.8 811.2,643.7 812.2,643.6 813.2,643.9 814.2,643.8 815.2,644.1 816.2,644.0 817.2,643.3 818.2,644.1 819.1,643.6 820.1,643.4 821.1,643.5 822.1,643.5 823.1,643.2 824.1,643.1 825.1,643.0 826.1,643.3 827.1,642.8 828.1,642.8 829.0,642.7 830.0,642.3 831.0,642.1 832.0,641.9 833.0,642.1 834.0,641.6 835.0,641.4 836.0,641.3 837.0,641.1 837.9,641.2 838.9,641.1 839.9,640.7 840.9,641.0 841.9,640.5 842.9,640.5 843.9,640.3 844.9,640.4 845.9,640.0 846.8,639.7 847.8,639.3 848.8,639.1 849.8,639.1 850.8,639.0 851.8,638.9 852.8,638.5 853.8,638.4 854.8,638.0 855.7,637.6 856.7,637.8 857.7,638.0 858.7,637.6 859.7,637.6 860.7,637.4 861.7,636.6 862.7,636.7 863.7,636.9 864.6,636.3 865.6,636.0 866.6,636.2 867.6,636.1 868.6,635.9 869.6,635.6 870.6,635.4 871.6,635.1 872.6,634.9 873.5,634.8 874.5,634.6 875.5,634.7 876.5,635.0 877.5,634.6 878.5,634.3 879.5,634.4 880.5,634.0 881.5,634.1 882.4,634.1 883.4,633.5 884.4,633.6 885.4,633.5 886.4,633.3 887.4,633.2 888.4,633.2 889.4,633.7 890.4,633.2 891.3,633.1 892.3,633.1 893.3,632.8 894.3,632.5 895.3,632.8 896.3,632.9 897.3,632.2 898.3,632.6 899.3,632.8 900.2,632.4 901.2,632.3 902.2,632.6 903.2,632.2 904.2,632.5 905.2,632.6 906.2,632.3 907.2,632.2 908.2,632.5 909.1,632.4 910.1,632.5 911.1,631.9 912.1,632.7 913.1,632.3 914.1,632.6 915.1,632.7 916.1,632.6 917.1,632.6 918.0,632.6 919.0,632.9 920.0,633.2 921.0,633.2 922.0,633.1 923.0,633.2 924.0,633.1 925.0,633.4 926.0,633.4 927.0,633.4 927.9,633.9 928.9,634.3 929.9,634.4 930.9,634.6 931.9,634.1 932.9,634.8 933.9,634.5 934.9,634.8 935.9,634.7 936.8,635.0 937.8,635.4 938.8,635.6 939.8,635.7 940.8,635.9 941.8,636.2 942.8,636.3 943.8,636.1 944.8,637.0 945.7,636.8 946.7,637.3 947.7,637.2 948.7,637.3 949.7,637.7 950.7,637.7 951.7,638.4 952.7,638.1 953.7,638.6 954.6,638.6 955.6,638.9 956.6,639.7 957.6,639.6 958.6,639.6 959.6,639.5 960.6,640.1 961.6,640.3 962.6,640.9 963.5,640.5 964.5,640.7 965.5,641.4 966.5,641.7 967.5,642.2" fill="none" stroke="#ff2a2a" stroke-width="0.95" stroke-linejoin="round"/>
<polyline points="571.9,636.3 572.9,636.4 573.9,637.2 574.9,637.6 575.9,638.2 576.8,638.9 577.8,638.8 578.8,639.8 579.8,640.0 580.8,640.3 581.8,640.6 582.8,641.1 583.8,641.6 584.8,642.2 585.7,642.7 586.7,642.8 587.7,643.4 588.7,643.9 589.7,644.3 590.7,644.5 591.7,645.2 592.7,645.5 593.7,645.9 594.6,645.9 595.6,646.2 596.6,646.3 597.6,647.4 598.6,647.6 599.6,647.6 600.6,648.2 601.6,648.6 602.6,648.5 603.5,649.3 604.5,649.8 605.5,650.2 606.5,650.2 607.5,650.5 608.5,651.2 609.5,651.4 610.5,651.4 611.5,651.7 612.4,652.3 613.4,652.3 614.4,652.6 615.4,653.4 616.4,653.4 617.4,653.5 618.4,654.0 619.4,654.6 620.4,654.5 621.4,654.6 622.3,654.6 623.3,655.7 624.3,654.9 625.3,655.9 626.3,655.7 627.3,655.9 628.3,656.1 629.3,656.5 630.3,656.9 631.2,656.7 632.2,657.1 633.2,657.6 634.2,656.6 635.2,657.2 636.2,657.0 637.2,657.7 638.2,657.2 639.2,657.2 640.1,657.3 641.1,657.7 642.1,657.9 643.1,657.7 644.1,658.1 645.1,658.0 646.1,657.5 647.1,657.7 648.1,657.4 649.0,657.3 650.0,656.8 651.0,656.8 652.0,656.9 653.0,656.5 654.0,656.8 655.0,656.5 656.0,656.0 657.0,656.3 657.9,655.9 658.9,655.9 659.9,655.3 660.9,654.7 661.9,654.9 662.9,654.3 663.9,654.1 664.9,653.7 665.9,653.2 666.8,652.1 667.8,651.3 668.8,651.0 669.8,650.5 670.8,649.4 671.8,648.7 672.8,647.6 673.8,646.7 674.8,645.6 675.7,644.5 676.7,643.6 677.7,642.4 678.7,641.5 679.7,640.0 680.7,638.9 681.7,637.3 682.7,636.2 683.7,634.6 684.6,633.2 685.6,632.2 686.6,630.7 687.6,629.3 688.6,627.5 689.6,625.9 690.6,624.6 691.6,623.5 692.6,621.6 693.5,620.9 694.5,618.8 695.5,617.8 696.5,616.9 697.5,614.3 698.5,613.1 699.5,612.3 700.5,610.7 701.5,609.4 702.4,608.0 703.4,607.0 704.4,605.5 705.4,603.9 706.4,602.6 707.4,601.1 708.4,600.1 709.4,598.3 710.4,597.7 711.3,596.3 712.3,595.5 713.3,594.2 714.3,592.4 715.3,591.8 716.3,590.4 717.3,589.5 718.3,588.8 719.3,587.8 720.2,587.0 721.2,586.4 722.2,585.5 723.2,585.1 724.2,584.9 725.2,584.7 726.2,584.3 727.2,584.2 728.2,583.9 729.2,583.5 730.1,584.0 731.1,584.3 732.1,584.5 733.1,584.9 734.1,585.2 735.1,585.5 736.1,585.8 737.1,586.3 738.1,586.6 739.0,587.5 740.0,588.1 741.0,589.1 742.0,589.3 743.0,590.5 744.0,591.1 745.0,592.3 746.0,593.2 747.0,594.7 747.9,595.6 748.9,596.2 749.9,598.2 750.9,598.9 751.9,599.9 752.9,601.4 753.9,602.5 754.9,603.6 755.9,605.2 756.8,606.1 757.8,607.6 758.8,608.7 759.8,609.9 760.8,610.9 761.8,612.0 762.8,613.1 763.8,614.6 764.8,615.0 765.7,616.3 766.7,617.4 767.7,618.8 768.7,619.7 769.7,620.6 770.7,621.7 771.7,623.2 772.7,623.6 773.7,624.1 774.6,626.1 775.6,626.4 776.6,627.4 777.6,628.4 778.6,628.9 779.6,630.3 780.6,630.8 781.6,631.3 782.6,632.3 783.5,633.1 784.5,633.6 785.5,634.3 786.5,634.4 787.5,635.5 788.5,635.6 789.5,636.5 790.5,636.5 791.5,637.1 792.4,638.0 793.4,637.8 794.4,638.4 795.4,638.5 796.4,638.3 797.4,639.2 798.4,639.4 799.4,639.1 800.4,639.6 801.3,639.5 802.3,639.9 803.3,640.3 804.3,640.3 805.3,640.2 806.3,640.4 807.3,640.7 808.3,640.8 809.3,640.9 810.2,641.1 811.2,640.6 812.2,641.1 813.2,641.4 814.2,641.3 815.2,641.1 816.2,641.1 817.2,641.3 818.2,641.4 819.1,641.2 820.1,641.6 821.1,641.5 822.1,641.0 823.1,641.2 824.1,641.0 825.1,640.8 826.1,640.9 827.1,641.0 828.1,640.4 829.0,640.7 830.0,640.9 831.0,640.6 832.0,640.6 833.0,640.8 834.0,640.6 835.0,640.5 836.0,640.9 837.0,640.4 837.9,640.3 838.9,640.3 839.9,640.5 840.9,640.1 841.9,640.0 842.9,639.8 843.9,640.0 844.9,639.5 845.9,639.9 846.8,639.5 847.8,639.1 848.8,639.4 849.8,639.3 850.8,638.8 851.8,639.1 852.8,638.9 853.8,638.7 854.8,638.4 855.7,639.0 856.7,638.6 857.7,638.6 858.7,638.5 859.7,638.3 860.7,638.2 861.7,637.9 862.7,638.1 863.7,637.8 864.6,637.6 865.6,637.8 866.6,637.5 867.6,637.2 868.6,637.4 869.6,637.6 870.6,637.4 871.6,637.6 872.6,637.4 873.5,637.3 874.5,637.7 875.5,637.6 876.5,637.4 877.5,637.9 878.5,637.9 879.5,638.3 880.5,638.4 881.5,638.5 882.4,638.1 883.4,638.8 884.4,639.1 885.4,639.3 886.4,639.4 887.4,639.4 888.4,639.7 889.4,639.5 890.4,640.0 891.3,640.0 892.3,640.4 893.3,640.5 894.3,641.1 895.3,641.0 896.3,641.2 897.3,641.4 898.3,642.0 899.3,641.5 900.2,642.0 901.2,642.2 902.2,642.3 903.2,642.6 904.2,642.7 905.2,643.3 906.2,643.5 907.2,643.5 908.2,643.8 909.1,644.3 910.1,644.6 911.1,645.0 912.1,645.2 913.1,645.3 914.1,646.2 915.1,646.1 916.1,646.6 917.1,647.3 918.0,647.5 919.0,648.4 920.0,648.9 921.0,649.2 922.0,649.5 923.0,649.9 924.0,650.4 925.0,650.7 926.0,651.7 927.0,651.5 927.9,652.4 928.9,652.7 929.9,653.1 930.9,653.7 931.9,654.2 932.9,654.5 933.9,654.8 934.9,655.1 935.9,655.5 936.8,656.3 937.8,656.7 938.8,657.2 939.8,657.3 940.8,658.3 941.8,658.0 942.8,658.8 943.8,659.3 944.8,659.5 945.7,659.8 946.7,660.4 947.7,660.7 948.7,661.3 949.7,661.5 950.7,661.9 951.7,662.6 952.7,662.7 953.7,663.5 954.6,663.9 955.6,664.6 956.6,664.8 957.6,665.0 958.6,665.9 959.6,665.9 960.6,666.4 961.6,666.9 962.6,667.8 963.5,667.8 964.5,668.1 965.5,668.8 966.5,669.1 967.5,670.0" fill="none" stroke="#2a2aff" stroke-width="0.95" stroke-linejoin="round"/>
<polyline points="571.9,635.7 572.9,636.4 573.9,636.4 574.9,637.4 575.9,637.3 576.8,637.9 577.8,638.0 578.8,638.8 579.8,639.1 580.8,638.9 581.8,640.0 582.8,640.3 583.8,640.6 584.8,641.1 585.7,641.0 586.7,641.3 587.7,642.2 588.7,642.8 589.7,642.5 590.7,642.9 591.7,643.3 592.7,643.6 593.7,644.4 594.6,644.6 595.6,645.2 596.6,645.6 597.6,645.4 598.6,646.1 599.6,645.9 600.6,646.7 601.6,647.2 602.6,647.2 603.5,647.3 604.5,647.9 605.5,648.6 606.5,648.6 607.5,648.7 608.5,649.4 609.5,649.8 610.5,649.7 611.5,650.2 612.4,650.7 613.4,650.9 614.4,651.2 615.4,651.3 616.4,651.6 617.4,651.7 618.4,652.0 619.4,652.8 620.4,652.6 621.4,652.7 622.3,653.1 623.3,653.2 624.3,653.7 625.3,654.0 626.3,653.8 627.3,654.4 628.3,654.8 629.3,654.2 630.3,654.7 631.2,654.7 632.2,655.0 633.2,655.0 634.2,655.0 635.2,654.9 636.2,654.7 637.2,655.3 638.2,654.6 639.2,654.9 640.1,654.8 641.1,654.4 642.1,654.4 643.1,654.6 644.1,653.8 645.1,654.2 646.1,653.8 647.1,653.7 648.1,653.2 649.0,653.4 650.0,652.9 651.0,653.1 652.0,652.4 653.0,652.6 654.0,652.3 655.0,651.5 656.0,651.6 657.0,651.3 657.9,650.5 658.9,650.5 659.9,650.4 660.9,649.6 661.9,649.6 662.9,648.5 663.9,647.9 664.9,647.7 665.9,647.0 666.8,646.1 667.8,645.3 668.8,644.6 669.8,643.4 670.8,642.9 671.8,641.5 672.8,640.4 673.8,639.2 674.8,637.9 675.7,636.9 676.7,635.2 677.7,634.0 678.7,632.7 679.7,631.4 680.7,629.9 681.7,628.0 682.7,626.7 683.7,625.0 684.6,623.1 685.6,621.5 686.6,619.8 687.6,618.6 688.6,617.1 689.6,615.0 690.6,613.5 691.6,611.6 692.6,610.2 693.5,608.3 694.5,606.7 695.5,605.0 696.5,603.4 697.5,601.8 698.5,600.1 699.5,598.5 700.5,596.7 701.5,595.3 702.4,593.2 703.4,591.9 704.4,590.0 705.4,588.6 706.4,587.0 707.4,584.9 708.4,583.8 709.4,582.4 710.4,580.6 711.3,579.0 712.3,576.9 713.3,575.8 714.3,574.1 715.3,573.2 716.3,571.5 717.3,570.2 718.3,568.8 719.3,568.3 720.2,567.1 721.2,566.4 722.2,566.0 723.2,565.2 724.2,564.8 725.2,564.8 726.2,563.9 727.2,563.8 728.2,563.9 729.2,564.0 730.1,563.5 731.1,563.8 732.1,563.9 733.1,564.1 734.1,564.9 735.1,565.2 736.1,566.1 737.1,566.8 738.1,567.7 739.0,568.7 740.0,569.6 741.0,571.1 742.0,572.5 743.0,573.9 744.0,575.3 745.0,577.0 746.0,578.5 747.0,580.0 747.9,581.7 748.9,583.2 749.9,584.9 750.9,586.0 751.9,587.8 752.9,589.6 753.9,591.3 754.9,592.5 755.9,594.5 756.8,596.2 757.8,597.8 758.8,599.4 759.8,600.8 760.8,602.7 761.8,603.9 762.8,606.1 763.8,607.3 764.8,609.3 765.7,610.2 766.7,612.2 767.7,613.6 768.7,614.9 769.7,616.2 770.7,618.2 771.7,619.4 772.7,620.9 773.7,621.9 774.6,623.2 775.6,624.4 776.6,625.7 777.6,626.7 778.6,627.8 779.6,628.5 780.6,629.2 781.6,630.9 782.6,631.3 783.5,632.2 784.5,632.7 785.5,633.7 786.5,634.2 787.5,635.0 788.5,635.2 789.5,635.9 790.5,636.5 791.5,636.9 792.4,637.6 793.4,638.3 794.4,638.3 795.4,638.8 796.4,639.3 797.4,639.4 798.4,639.7 799.4,640.5 800.4,640.7 801.3,640.5 802.3,640.7 803.3,641.3 804.3,641.6 805.3,641.6 806.3,641.7 807.3,642.0 808.3,641.8 809.3,642.2 810.2,642.3 811.2,641.9 812.2,642.4 813.2,642.4 814.2,642.4 815.2,642.6 816.2,643.0 817.2,643.1 818.2,643.5 819.1,643.1 820.1,643.5 821.1,644.1 822.1,644.1 823.1,644.1 824.1,644.4 825.1,644.3 826.1,644.6 827.1,645.3 828.1,645.4 829.0,645.9 830.0,645.7 831.0,646.0 832.0,645.6 833.0,646.4 834.0,647.1 835.0,647.0 836.0,647.0 837.0,647.5 837.9,647.6 838.9,647.7 839.9,647.8 840.9,648.1 841.9,648.5 842.9,648.3 843.9,648.8 844.9,649.0 845.9,649.4 846.8,649.5 847.8,649.4 848.8,650.1 849.8,650.0 850.8,650.1 851.8,650.6 852.8,650.7 853.8,651.3 854.8,651.1 855.7,651.5 856.7,652.0 857.7,652.8 858.7,653.0 859.7,653.0 860.7,653.2 861.7,653.9 862.7,654.1 863.7,655.0 864.6,655.3 865.6,655.7 866.6,656.1 867.6,657.0 868.6,656.9 869.6,657.3 870.6,658.3 871.6,658.8 872.6,658.9 873.5,659.6 874.5,660.5 875.5,660.3 876.5,660.9 877.5,661.5 878.5,661.5 879.5,662.4 880.5,663.1 881.5,663.5 882.4,664.2 883.4,664.7 884.4,665.0 885.4,665.8 886.4,666.3 887.4,666.5 888.4,667.2 889.4,667.8 890.4,668.5 891.3,669.1 892.3,669.5 893.3,670.5 894.3,670.7 895.3,672.0 896.3,672.5 897.3,673.4 898.3,673.9 899.3,674.4 900.2,674.9 901.2,676.1 902.2,676.7 903.2,677.5 904.2,678.3 905.2,679.1 906.2,679.6 907.2,680.8 908.2,681.2 909.1,682.0 910.1,682.9 911.1,683.8 912.1,684.6 913.1,684.7 914.1,686.3 915.1,686.5 916.1,687.5 917.1,688.5 918.0,689.5 919.0,689.9 920.0,690.6 921.0,692.1 922.0,692.8 923.0,693.4 924.0,694.4 925.0,694.9 926.0,696.4 927.0,697.0 927.9,698.3 928.9,698.4 929.9,699.9 930.9,701.1 931.9,701.5 932.9,702.3 933.9,702.7 934.9,704.1 935.9,704.8 936.8,705.5 937.8,706.1 938.8,707.3 939.8,707.8 940.8,708.7 941.8,709.7 942.8,710.4 943.8,711.2 944.8,712.2 945.7,712.5 946.7,713.9 947.7,714.1 948.7,714.9 949.7,715.9 950.7,716.8 951.7,717.5 952.7,718.1 953.7,718.8 954.6,719.6 955.6,720.2 956.6,721.3 957.6,721.9 958.6,723.0 959.6,723.3 960.6,724.2 961.6,725.0 962.6,725.4 963.5,726.3 964.5,727.8 965.5,727.9 966.5,728.9 967.5,729.1" fill="none" stroke="#ff20e8" stroke-width="0.95" stroke-linejoin="round"/>
<polyline points="571.9,635.6 572.9,636.7 573.9,637.0 574.9,637.4 575.9,637.7 576.8,638.1 577.8,638.3 578.8,639.2 579.8,639.0 580.8,640.0 581.8,640.1 582.8,640.3 583.8,640.8 584.8,641.5 585.7,641.8 586.7,642.2 587.7,642.4 588.7,642.5 589.7,643.4 590.7,643.4 591.7,643.8 592.7,644.1 593.7,644.5 594.6,644.6 595.6,645.2 596.6,645.5 597.6,645.9 598.6,646.0 599.6,647.1 600.6,646.8 601.6,647.4 602.6,647.8 603.5,648.2 604.5,648.8 605.5,648.8 606.5,649.1 607.5,649.2 608.5,649.9 609.5,649.6 610.5,650.1 611.5,650.5 612.4,650.9 613.4,651.2 614.4,651.6 615.4,651.7 616.4,651.9 617.4,652.2 618.4,652.7 619.4,652.7 620.4,653.1 621.4,653.1 622.3,652.9 623.3,653.4 624.3,653.8 625.3,654.3 626.3,654.4 627.3,654.6 628.3,654.2 629.3,654.7 630.3,654.6 631.2,654.8 632.2,654.7 633.2,654.5 634.2,654.9 635.2,654.9 636.2,655.0 637.2,654.6 638.2,654.9 639.2,654.9 640.1,654.9 641.1,654.8 642.1,654.2 643.1,653.6 644.1,654.3 645.1,653.7 646.1,653.7 647.1,653.8 648.1,653.4 649.0,653.1 650.0,653.0 651.0,652.2 652.0,652.8 653.0,652.0 654.0,651.7 655.0,651.6 656.0,651.1 657.0,650.6 657.9,650.3 658.9,649.8 659.9,649.3 660.9,649.4 661.9,648.1 662.9,647.3 663.9,646.9 664.9,646.2 665.9,646.0 666.8,644.9 667.8,644.1 668.8,643.2 669.8,641.8 670.8,641.1 671.8,639.9 672.8,639.1 673.8,637.5 674.8,636.2 675.7,635.0 676.7,633.6 677.7,631.7 678.7,630.9 679.7,629.3 680.7,627.7 681.7,625.7 682.7,623.9 683.7,622.7 684.6,621.2 685.6,619.5 686.6,617.5 687.6,616.2 688.6,613.9 689.6,612.2 690.6,610.7 691.6,608.9 692.6,607.1 693.5,605.1 694.5,603.9 695.5,601.7 696.5,600.2 697.5,598.5 698.5,596.6 699.5,594.8 700.5,593.2 701.5,591.5 702.4,589.6 703.4,587.2 704.4,585.3 705.4,583.7 706.4,581.8 707.4,580.3 708.4,578.4 709.4,576.5 710.4,575.0 711.3,573.2 712.3,571.2 713.3,569.6 714.3,568.1 715.3,566.1 716.3,564.8 717.3,563.1 718.3,562.0 719.3,560.9 720.2,559.7 721.2,558.9 722.2,558.2 723.2,557.5 724.2,556.7 725.2,556.3 726.2,555.9 727.2,556.3 728.2,555.9 729.2,555.9 730.1,555.8 731.1,556.0 732.1,556.3 733.1,556.3 734.1,556.9 735.1,557.8 736.1,558.1 737.1,559.1 738.1,560.5 739.0,561.4 740.0,563.1 741.0,564.1 742.0,566.0 743.0,567.7 744.0,569.3 745.0,571.1 746.0,572.7 747.0,574.5 747.9,576.3 748.9,578.3 749.9,580.8 750.9,581.8 751.9,584.1 752.9,585.5 753.9,587.1 754.9,589.1 755.9,591.1 756.8,592.9 757.8,594.7 758.8,596.6 759.8,598.5 760.8,600.4 761.8,601.7 762.8,603.8 763.8,605.4 764.8,607.4 765.7,609.1 766.7,610.9 767.7,612.5 768.7,614.1 769.7,615.9 770.7,617.8 771.7,619.4 772.7,620.5 773.7,622.5 774.6,624.0 775.6,625.1 776.6,626.6 777.6,628.1 778.6,629.6 779.6,630.3 780.6,631.9 781.6,633.1 782.6,634.4 783.5,635.7 784.5,636.7 785.5,637.3 786.5,638.3 787.5,639.4 788.5,640.5 789.5,641.4 790.5,642.0 791.5,643.1 792.4,643.4 793.4,644.1 794.4,644.5 795.4,645.7 796.4,646.7 797.4,647.5 798.4,648.7 799.4,648.8 800.4,649.3 801.3,649.7 802.3,650.3 803.3,650.9 804.3,651.5 805.3,651.9 806.3,652.2 807.3,653.3 808.3,653.6 809.3,654.3 810.2,654.1 811.2,654.6 812.2,655.2 813.2,656.1 814.2,656.2 815.2,656.7 816.2,657.0 817.2,657.5 818.2,657.7 819.1,658.3 820.1,658.4 821.1,658.9 822.1,659.4 823.1,659.7 824.1,660.1 825.1,660.2 826.1,660.8 827.1,661.0 828.1,661.5 829.0,662.1 830.0,661.9 831.0,662.7 832.0,662.7 833.0,663.1 834.0,663.9 835.0,664.1 836.0,664.4 837.0,664.9 837.9,665.4 838.9,665.4 839.9,666.0 840.9,666.3 841.9,666.9 842.9,667.2 843.9,667.9 844.9,668.2 845.9,668.5 846.8,669.1 847.8,669.7 848.8,670.3 849.8,670.5 850.8,671.0 851.8,671.6 852.8,672.3 853.8,672.5 854.8,672.6 855.7,673.8 856.7,674.2 857.7,674.8 858.7,676.0 859.7,676.0 860.7,676.8 861.7,677.0 862.7,677.9 863.7,678.7 864.6,679.2 865.6,679.8 866.6,680.6 867.6,681.2 868.6,682.2 869.6,682.6 870.6,683.1 871.6,683.6 872.6,684.6 873.5,685.5 874.5,686.1 875.5,686.9 876.5,687.5 877.5,688.4 878.5,689.5 879.5,690.3 880.5,691.1 881.5,692.0 882.4,692.9 883.4,694.0 884.4,695.2 885.4,695.8 886.4,697.0 887.4,697.5 888.4,698.4 889.4,699.8 890.4,700.2 891.3,701.1 892.3,702.2 893.3,702.9 894.3,703.8 895.3,705.4 896.3,705.9 897.3,707.0 898.3,707.9 899.3,708.8 900.2,710.1 901.2,711.0 902.2,712.0 903.2,712.9 904.2,713.7 905.2,714.9 906.2,715.8 907.2,716.4 908.2,717.4 909.1,718.3 910.1,719.7 911.1,720.4 912.1,721.3 913.1,722.1 914.1,723.1 915.1,723.8 916.1,724.9 917.1,725.8 918.0,726.8 919.0,727.6 920.0,728.8 921.0,729.4 922.0,730.5 923.0,731.6 924.0,732.6 925.0,733.4 926.0,734.3 927.0,735.3 927.9,736.4 928.9,737.3 929.9,738.4 930.9,739.1 931.9,740.4 932.9,741.8 933.9,742.0 934.9,743.2 935.9,744.5 936.8,745.2 937.8,746.3 938.8,746.6 939.8,747.9 940.8,749.3 941.8,749.8 942.8,750.9 943.8,751.3 944.8,752.9 945.7,754.1 946.7,754.5 947.7,755.5 948.7,756.4 949.7,757.6 950.7,757.9 951.7,758.5 952.7,760.2 953.7,760.4 954.6,761.6 955.6,761.8 956.6,763.0 957.6,764.0 958.6,764.5 959.6,765.4 960.6,766.4 961.6,766.9 962.6,767.9 963.5,768.9 964.5,768.8 965.5,770.1 966.5,770.9 967.5,771.4" fill="none" stroke="#2a6a3a" stroke-width="0.95" stroke-linejoin="round"/>
<polyline points="571.9,636.9 572.9,637.2 573.9,637.5 574.9,637.9 575.9,638.1 576.8,638.3 577.8,639.1 578.8,639.3 579.8,639.6 580.8,640.4 581.8,640.5 582.8,641.1 583.8,641.1 584.8,641.6 585.7,642.0 586.7,642.7 587.7,642.8 588.7,643.3 589.7,643.4 590.7,643.9 591.7,644.4 592.7,644.4 593.7,644.8 594.6,645.5 595.6,645.4 596.6,646.1 597.6,646.4 598.6,646.7 599.6,647.2 600.6,647.5 601.6,647.8 602.6,647.7 603.5,648.1 604.5,648.8 605.5,648.7 606.5,649.3 607.5,649.5 608.5,649.7 609.5,650.2 610.5,650.0 611.5,650.7 612.4,651.3 613.4,651.1 614.4,651.7 615.4,652.0 616.4,652.8 617.4,652.2 618.4,652.5 619.4,652.7 620.4,652.9 621.4,653.0 622.3,653.6 623.3,653.6 624.3,654.1 625.3,654.2 626.3,654.1 627.3,654.3 628.3,654.8 629.3,654.6 630.3,654.8 631.2,654.9 632.2,654.7 633.2,654.9 634.2,655.2 635.2,655.1 636.2,654.4 637.2,655.1 638.2,654.6 639.2,654.5 640.1,654.4 641.1,654.6 642.1,654.3 643.1,654.1 644.1,653.8 645.1,653.9 646.1,653.8 647.1,653.1 648.1,652.9 649.0,652.8 650.0,652.7 651.0,652.2 652.0,652.0 653.0,651.5 654.0,651.6 655.0,651.0 656.0,650.6 657.0,650.4 657.9,649.7 658.9,649.2 659.9,648.8 660.9,648.0 661.9,647.8 662.9,646.8 663.9,646.0 664.9,645.3 665.9,644.2 666.8,643.8 667.8,643.0 668.8,641.6 669.8,640.5 670.8,639.0 671.8,638.1 672.8,637.2 673.8,635.6 674.8,634.6 675.7,633.3 676.7,631.0 677.7,630.1 678.7,628.5 679.7,627.0 680.7,625.1 681.7,623.8 682.7,622.0 683.7,620.8 684.6,619.2 685.6,616.8 686.6,615.1 687.6,613.5 688.6,611.8 689.6,610.1 690.6,608.5 691.6,606.2 692.6,604.6 693.5,602.8 694.5,601.0 695.5,599.0 696.5,597.3 697.5,595.3 698.5,593.9 699.5,591.6 700.5,589.4 701.5,588.0 702.4,586.0 703.4,583.8 704.4,581.9 705.4,580.0 706.4,578.5 707.4,576.1 708.4,574.5 709.4,572.4 710.4,570.1 711.3,568.4 712.3,566.2 713.3,563.8 714.3,562.5 715.3,560.7 716.3,559.3 717.3,557.7 718.3,556.3 719.3,554.8 720.2,553.7 721.2,552.5 722.2,551.5 723.2,550.9 724.2,550.4 725.2,549.9 726.2,549.1 727.2,549.0 728.2,548.6 729.2,548.6 730.1,549.0 731.1,548.9 732.1,549.6 733.1,549.2 734.1,550.0 735.1,551.0 736.1,552.1 737.1,552.9 738.1,554.6 739.0,555.8 740.0,557.1 741.0,559.0 742.0,561.0 743.0,562.6 744.0,565.1 745.0,566.8 746.0,569.1 747.0,571.2 747.9,573.0 748.9,575.3 749.9,576.7 750.9,579.3 751.9,580.7 752.9,583.4 753.9,584.9 754.9,587.3 755.9,589.2 756.8,590.9 757.8,592.7 758.8,595.0 759.8,596.4 760.8,598.7 761.8,600.4 762.8,602.2 763.8,604.1 764.8,606.4 765.7,607.5 766.7,609.6 767.7,611.6 768.7,613.6 769.7,615.5 770.7,617.2 771.7,618.5 772.7,620.4 773.7,622.2 774.6,623.7 775.6,624.9 776.6,626.8 777.6,628.4 778.6,629.4 779.6,631.0 780.6,632.4 781.6,633.9 782.6,635.3 783.5,636.4 784.5,637.4 785.5,638.5 786.5,639.4 787.5,640.3 788.5,641.4 789.5,642.3 790.5,643.5 791.5,644.6 792.4,645.1 793.4,646.0 794.4,646.7 795.4,647.4 796.4,648.4 797.4,649.1 798.4,649.6 799.4,650.2 800.4,651.0 801.3,651.4 802.3,652.2 803.3,653.0 804.3,653.3 805.3,653.5 806.3,654.7 807.3,654.8 808.3,655.4 809.3,655.9 810.2,656.9 811.2,656.9 812.2,657.8 813.2,658.4 814.2,659.0 815.2,659.3 816.2,659.9 817.2,660.5 818.2,660.7 819.1,661.6 820.1,662.2 821.1,662.2 822.1,662.7 823.1,663.1 824.1,664.0 825.1,664.0 826.1,664.6 827.1,664.8 828.1,665.9 829.0,666.0 830.0,666.6 831.0,667.3 832.0,667.6 833.0,667.6 834.0,668.5 835.0,669.0 836.0,669.1 837.0,669.6 837.9,670.1 838.9,670.9 839.9,671.3 840.9,671.6 841.9,672.5 842.9,673.0 843.9,673.2 844.9,673.6 845.9,674.7 846.8,675.6 847.8,675.9 848.8,676.4 849.8,676.8 850.8,677.3 851.8,678.1 852.8,678.9 853.8,679.3 854.8,680.3 855.7,680.8 856.7,681.6 857.7,681.6 858.7,682.8 859.7,683.9 860.7,684.8 861.7,685.4 862.7,686.5 863.7,687.2 864.6,688.0 865.6,688.5 866.6,689.7 867.6,690.6 868.6,691.6 869.6,692.5 870.6,693.1 871.6,694.1 872.6,694.7 873.5,696.0 874.5,696.6 875.5,697.7 876.5,698.7 877.5,700.1 878.5,700.9 879.5,701.5 880.5,702.3 881.5,703.6 882.4,704.5 883.4,705.8 884.4,706.8 885.4,708.0 886.4,708.7 887.4,709.9 888.4,711.2 889.4,712.3 890.4,713.3 891.3,714.5 892.3,715.9 893.3,716.5 894.3,718.0 895.3,719.2 896.3,720.0 897.3,721.2 898.3,722.6 899.3,723.5 900.2,724.9 901.2,725.9 902.2,727.2 903.2,727.5 904.2,729.2 905.2,729.6 906.2,730.9 907.2,731.8 908.2,732.6 909.1,733.5 910.1,734.3 911.1,735.0 912.1,736.3 913.1,737.1 914.1,738.3 915.1,739.0 916.1,740.1 917.1,741.2 918.0,742.1 919.0,743.0 920.0,743.9 921.0,744.9 922.0,746.0 923.0,747.1 924.0,747.7 925.0,749.3 926.0,750.0 927.0,750.5 927.9,752.4 928.9,753.0 929.9,753.7 930.9,755.2 931.9,755.2 932.9,757.3 933.9,757.4 934.9,758.4 935.9,759.5 936.8,760.7 937.8,761.5 938.8,762.8 939.8,763.4 940.8,764.7 941.8,765.5 942.8,766.1 943.8,767.5 944.8,768.3 945.7,769.1 946.7,770.4 947.7,770.7 948.7,771.8 949.7,773.1 950.7,773.7 951.7,774.8 952.7,775.6 953.7,776.3 954.6,777.3 955.6,777.8 956.6,779.0 957.6,779.5 958.6,780.5 959.6,781.1 960.6,782.2 961.6,783.0 962.6,783.9 963.5,784.3 964.5,785.0 965.5,785.5 966.5,786.5 967.5,787.5" fill="none" stroke="#1c1c5c" stroke-width="0.95" stroke-linejoin="round"/>
<rect x="883.5" y="512.5" width="80.3" height="99.4" fill="#fff" stroke="#4a4a4a" stroke-width="1"/>
<line x1="887.7" y1="526.6" x2="916.0" y2="526.6" stroke="#4a4a4a" stroke-width="1.2"/>
<text x="918.9" y="530.7" font-size="12.4" font-weight="normal" text-anchor="start" textLength="41.8" lengthAdjust="spacingAndGlyphs" stroke="#000" stroke-width="0.22">0.05 μM</text>
<line x1="887.7" y1="542.2" x2="916.0" y2="542.2" stroke="#ff2a2a" stroke-width="1.2"/>
<text x="918.9" y="546.3" font-size="12.4" font-weight="normal" text-anchor="start" textLength="35.4" lengthAdjust="spacingAndGlyphs" stroke="#000" stroke-width="0.22">0.1 μM</text>
<line x1="887.7" y1="557.8" x2="916.0" y2="557.8" stroke="#2a2aff" stroke-width="1.2"/>
<text x="918.9" y="561.9" font-size="12.4" font-weight="normal" text-anchor="start" textLength="41.8" lengthAdjust="spacingAndGlyphs" stroke="#000" stroke-width="0.22">0.25 μM</text>
<line x1="887.7" y1="573.3" x2="916.0" y2="573.3" stroke="#ff20e8" stroke-width="1.2"/>
<text x="918.9" y="577.4" font-size="12.4" font-weight="normal" text-anchor="start" textLength="35.4" lengthAdjust="spacingAndGlyphs" stroke="#000" stroke-width="0.22">0.4 μM</text>
<line x1="887.7" y1="588.9" x2="916.0" y2="588.9" stroke="#3a6a48" stroke-width="1.2"/>
<text x="918.9" y="593.0" font-size="12.4" font-weight="normal" text-anchor="start" textLength="35.4" lengthAdjust="spacingAndGlyphs" stroke="#000" stroke-width="0.22">0.7 μM</text>
<line x1="887.7" y1="604.5" x2="916.0" y2="604.5" stroke="#1c1c5c" stroke-width="1.2"/>
<text x="918.9" y="608.6" font-size="12.4" font-weight="normal" text-anchor="start" textLength="35.4" lengthAdjust="spacingAndGlyphs" stroke="#000" stroke-width="0.22">0.8 μM</text>
<line x1="661.2" y1="620.4" x2="661.2" y2="563" stroke="#000" stroke-width="1.6"/>
<path d="M661.2 556.4L663.9 565.0L658.5 565.0Z" fill="#000"/>
<text x="658.1" y="561.0" font-size="13.0" font-weight="normal" text-anchor="end" textLength="38.0" lengthAdjust="spacingAndGlyphs" stroke="#000" stroke-width="0.22">0.8 μM</text>
<text x="658.1" y="625.3" font-size="13.0" font-weight="normal" text-anchor="end" textLength="44.3" lengthAdjust="spacingAndGlyphs" stroke="#000" stroke-width="0.22">0.05 μM</text>
</svg></body></html>
